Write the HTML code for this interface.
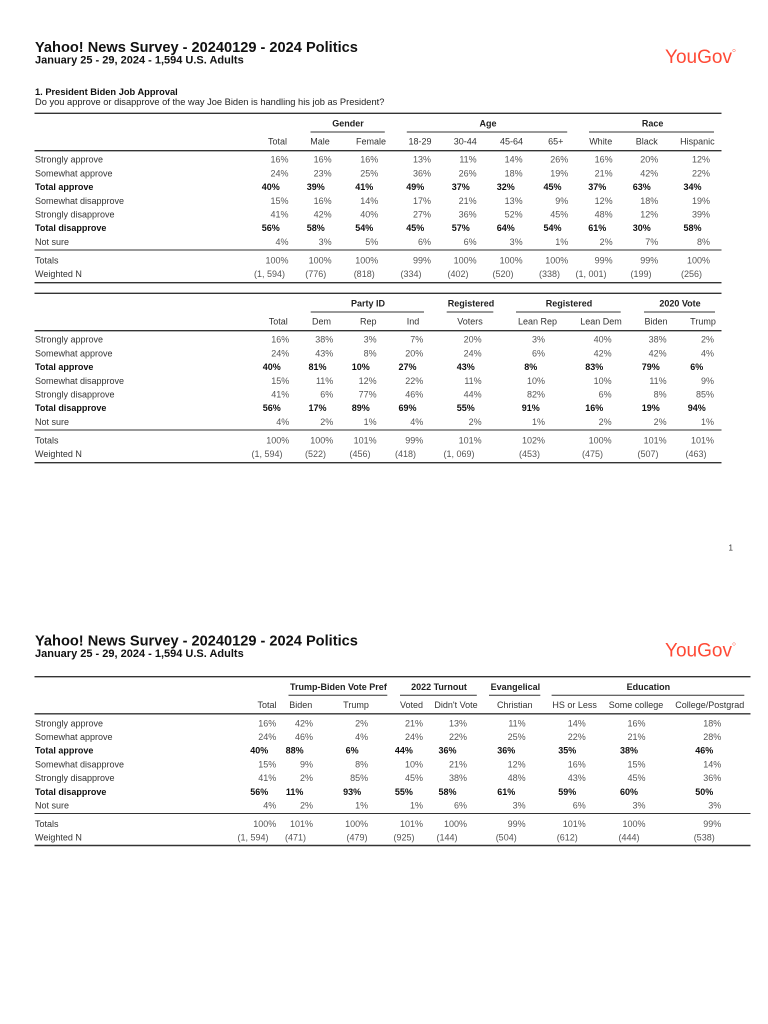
<!DOCTYPE html>
<html><head><meta charset="utf-8"><style>
html,body{margin:0;padding:0;background:#fff;}
svg{display:block;font-family:"Liberation Sans",Arial,sans-serif;}
.t{font-size:14.6px;font-weight:bold;fill:#111}
.s{font-size:11px;font-weight:bold;fill:#111}
.lg{font-size:19.5px;fill:#ff4a36}
.q{font-size:9.3px;font-weight:bold;fill:#111}
.qq{font-size:9.3px;fill:#222}
.lab{font-size:9px;fill:#333}
.labb{font-size:9px;font-weight:bold;fill:#111}
.gh{font-size:9px;font-weight:bold;fill:#222;text-anchor:middle}
.ch{font-size:9px;fill:#333;text-anchor:middle}
.n{font-size:9px;fill:#555;text-anchor:end}
.b{font-size:9px;font-weight:bold;fill:#111;text-anchor:middle}
.w{font-size:9px;fill:#555;text-anchor:middle}
.r{stroke:#333;stroke-width:1.4}
.r2{stroke:#333;stroke-width:1.1}
.u{stroke:#333;stroke-width:1}
</style></head><body>
<svg width="768" height="1024" viewBox="0 0 768 1024">
<rect width="768" height="1024" fill="#fff"/>

<!-- PAGE 1 HEADER -->
<text class="t" x="35" y="52">Yahoo! News Survey - 20240129 - 2024 Politics</text>
<text class="s" x="35" y="63.5">January 25 - 29, 2024 - 1,594 U.S. Adults</text>
<text class="lg" x="665" y="63" textLength="67" lengthAdjust="spacingAndGlyphs">YouGov</text>
<circle cx="734" cy="50.5" r="1.3" fill="none" stroke="#ff4a36" stroke-width="0.4"/>

<text class="q" x="35" y="95">1. President Biden Job Approval</text>
<text class="qq" x="35" y="105">Do you approve or disapprove of the way Joe Biden is handling his job as President?</text>

<!-- TABLE 1 -->
<line class="r" x1="34.5" x2="721.5" y1="113.3" y2="113.3"/>
<text class="gh" y="126.7"><tspan x="348">Gender</tspan><tspan x="488">Age</tspan><tspan x="652.6">Race</tspan></text>
<line class="u" x1="310.5" x2="384.8" y1="132" y2="132"/>
<line class="u" x1="406.8" x2="567.2" y1="132" y2="132"/>
<line class="u" x1="589" x2="714" y1="132" y2="132"/>
<text class="ch" y="144.5"><tspan x="277.5">Total</tspan><tspan x="320">Male</tspan><tspan x="371">Female</tspan><tspan x="420">18-29</tspan><tspan x="465.3">30-44</tspan><tspan x="511.5">45-64</tspan><tspan x="555.8">65+</tspan><tspan x="600.7">White</tspan><tspan x="646.7">Black</tspan><tspan x="697.4">Hispanic</tspan></text>
<line class="r" x1="34.5" x2="721.5" y1="150.7" y2="150.7"/>

<text class="lab" x="35" y="162.7">Strongly approve</text>
<text class="lab" x="35" y="176.4">Somewhat approve</text>
<text class="labb" x="35" y="190.1">Total approve</text>
<text class="lab" x="35" y="203.8">Somewhat disapprove</text>
<text class="lab" x="35" y="217.5">Strongly disapprove</text>
<text class="labb" x="35" y="231.2">Total disapprove</text>
<text class="lab" x="35" y="244.9">Not sure</text>
<text class="lab" x="35" y="263.5">Totals</text>
<text class="lab" x="35" y="277">Weighted N</text>

<text class="n" y="162.7"><tspan x="288.5">16%</tspan><tspan x="331.7">16%</tspan><tspan x="378.3">16%</tspan><tspan x="431">13%</tspan><tspan x="476.7">11%</tspan><tspan x="522.7">14%</tspan><tspan x="568.3">26%</tspan><tspan x="612.7">16%</tspan><tspan x="658.3">20%</tspan><tspan x="710">12%</tspan></text>
<text class="n" y="176.4"><tspan x="288.5">24%</tspan><tspan x="331.7">23%</tspan><tspan x="378.3">25%</tspan><tspan x="431">36%</tspan><tspan x="476.7">26%</tspan><tspan x="522.7">18%</tspan><tspan x="568.3">19%</tspan><tspan x="612.7">21%</tspan><tspan x="658.3">42%</tspan><tspan x="710">22%</tspan></text>
<text class="b" y="190.1"><tspan x="270.8">40%</tspan><tspan x="315.8">39%</tspan><tspan x="364.2">41%</tspan><tspan x="415.2">49%</tspan><tspan x="460.8">37%</tspan><tspan x="505.8">32%</tspan><tspan x="552.5">45%</tspan><tspan x="597.2">37%</tspan><tspan x="641.7">63%</tspan><tspan x="692.5">34%</tspan></text>
<text class="n" y="203.8"><tspan x="288.5">15%</tspan><tspan x="331.7">16%</tspan><tspan x="378.3">14%</tspan><tspan x="431">17%</tspan><tspan x="476.7">21%</tspan><tspan x="522.7">13%</tspan><tspan x="568.3">9%</tspan><tspan x="612.7">12%</tspan><tspan x="658.3">18%</tspan><tspan x="710">19%</tspan></text>
<text class="n" y="217.5"><tspan x="288.5">41%</tspan><tspan x="331.7">42%</tspan><tspan x="378.3">40%</tspan><tspan x="431">27%</tspan><tspan x="476.7">36%</tspan><tspan x="522.7">52%</tspan><tspan x="568.3">45%</tspan><tspan x="612.7">48%</tspan><tspan x="658.3">12%</tspan><tspan x="710">39%</tspan></text>
<text class="b" y="231.2"><tspan x="270.8">56%</tspan><tspan x="315.8">58%</tspan><tspan x="364.2">54%</tspan><tspan x="415.2">45%</tspan><tspan x="460.8">57%</tspan><tspan x="505.8">64%</tspan><tspan x="552.5">54%</tspan><tspan x="597.2">61%</tspan><tspan x="641.7">30%</tspan><tspan x="692.5">58%</tspan></text>
<text class="n" y="244.9"><tspan x="288.5">4%</tspan><tspan x="331.7">3%</tspan><tspan x="378.3">5%</tspan><tspan x="431">6%</tspan><tspan x="476.7">6%</tspan><tspan x="522.7">3%</tspan><tspan x="568.3">1%</tspan><tspan x="612.7">2%</tspan><tspan x="658.3">7%</tspan><tspan x="710">8%</tspan></text>
<line class="r2" x1="34.5" x2="721.5" y1="250" y2="250"/>
<text class="n" y="263.5"><tspan x="288.5">100%</tspan><tspan x="331.7">100%</tspan><tspan x="378.3">100%</tspan><tspan x="431">99%</tspan><tspan x="476.7">100%</tspan><tspan x="522.7">100%</tspan><tspan x="568.3">100%</tspan><tspan x="612.7">99%</tspan><tspan x="658.3">99%</tspan><tspan x="710">100%</tspan></text>
<text class="w" y="277"><tspan x="269.5">(1, 594)</tspan><tspan x="315.8">(776)</tspan><tspan x="364.2">(818)</tspan><tspan x="411">(334)</tspan><tspan x="458">(402)</tspan><tspan x="503">(520)</tspan><tspan x="549.5">(338)</tspan><tspan x="591">(1, 001)</tspan><tspan x="641">(199)</tspan><tspan x="691.5">(256)</tspan></text>
<line class="r" x1="34.5" x2="721.5" y1="282.7" y2="282.7"/>

<!-- TABLE 2 -->
<line class="r" x1="34.5" x2="721.5" y1="293.3" y2="293.3"/>
<text class="gh" y="306.7"><tspan x="368">Party ID</tspan><tspan x="471">Registered</tspan><tspan x="569">Registered</tspan><tspan x="680">2020 Vote</tspan></text>
<line class="u" x1="310.7" x2="424" y1="312" y2="312"/>
<line class="u" x1="446.7" x2="493.3" y1="312" y2="312"/>
<line class="u" x1="516" x2="620.7" y1="312" y2="312"/>
<line class="u" x1="644" x2="715" y1="312" y2="312"/>
<text class="ch" y="324.5"><tspan x="278.3">Total</tspan><tspan x="321.5">Dem</tspan><tspan x="368.3">Rep</tspan><tspan x="413">Ind</tspan><tspan x="470">Voters</tspan><tspan x="537.5">Lean Rep</tspan><tspan x="601">Lean Dem</tspan><tspan x="656">Biden</tspan><tspan x="703">Trump</tspan></text>
<line class="r" x1="34.5" x2="721.5" y1="330.7" y2="330.7"/>

<text class="lab" x="35" y="342.7">Strongly approve</text>
<text class="lab" x="35" y="356.4">Somewhat approve</text>
<text class="labb" x="35" y="370.1">Total approve</text>
<text class="lab" x="35" y="383.8">Somewhat disapprove</text>
<text class="lab" x="35" y="397.5">Strongly disapprove</text>
<text class="labb" x="35" y="411.2">Total disapprove</text>
<text class="lab" x="35" y="424.9">Not sure</text>
<text class="lab" x="35" y="443.5">Totals</text>
<text class="lab" x="35" y="457">Weighted N</text>

<text class="n" y="342.7"><tspan x="289.3">16%</tspan><tspan x="333.3">38%</tspan><tspan x="376.7">3%</tspan><tspan x="423.3">7%</tspan><tspan x="481.7">20%</tspan><tspan x="545">3%</tspan><tspan x="611.7">40%</tspan><tspan x="666.7">38%</tspan><tspan x="714">2%</tspan></text>
<text class="n" y="356.4"><tspan x="289.3">24%</tspan><tspan x="333.3">43%</tspan><tspan x="376.7">8%</tspan><tspan x="423.3">20%</tspan><tspan x="481.7">24%</tspan><tspan x="545">6%</tspan><tspan x="611.7">42%</tspan><tspan x="666.7">42%</tspan><tspan x="714">4%</tspan></text>
<text class="b" y="370.1"><tspan x="271.7">40%</tspan><tspan x="317.5">81%</tspan><tspan x="360.8">10%</tspan><tspan x="407.5">27%</tspan><tspan x="465.8">43%</tspan><tspan x="530.8">8%</tspan><tspan x="594.2">83%</tspan><tspan x="650.8">79%</tspan><tspan x="696.7">6%</tspan></text>
<text class="n" y="383.8"><tspan x="289.3">15%</tspan><tspan x="333.3">11%</tspan><tspan x="376.7">12%</tspan><tspan x="423.3">22%</tspan><tspan x="481.7">11%</tspan><tspan x="545">10%</tspan><tspan x="611.7">10%</tspan><tspan x="666.7">11%</tspan><tspan x="714">9%</tspan></text>
<text class="n" y="397.5"><tspan x="289.3">41%</tspan><tspan x="333.3">6%</tspan><tspan x="376.7">77%</tspan><tspan x="423.3">46%</tspan><tspan x="481.7">44%</tspan><tspan x="545">82%</tspan><tspan x="611.7">6%</tspan><tspan x="666.7">8%</tspan><tspan x="714">85%</tspan></text>
<text class="b" y="411.2"><tspan x="271.7">56%</tspan><tspan x="317.5">17%</tspan><tspan x="360.8">89%</tspan><tspan x="407.5">69%</tspan><tspan x="465.8">55%</tspan><tspan x="530.8">91%</tspan><tspan x="594.2">16%</tspan><tspan x="650.8">19%</tspan><tspan x="696.7">94%</tspan></text>
<text class="n" y="424.9"><tspan x="289.3">4%</tspan><tspan x="333.3">2%</tspan><tspan x="376.7">1%</tspan><tspan x="423.3">4%</tspan><tspan x="481.7">2%</tspan><tspan x="545">1%</tspan><tspan x="611.7">2%</tspan><tspan x="666.7">2%</tspan><tspan x="714">1%</tspan></text>
<line class="r2" x1="34.5" x2="721.5" y1="430" y2="430"/>
<text class="n" y="443.5"><tspan x="289.3">100%</tspan><tspan x="333.3">100%</tspan><tspan x="376.7">101%</tspan><tspan x="423.3">99%</tspan><tspan x="481.7">101%</tspan><tspan x="545">102%</tspan><tspan x="611.7">100%</tspan><tspan x="666.7">101%</tspan><tspan x="714">101%</tspan></text>
<text class="w" y="457"><tspan x="267">(1, 594)</tspan><tspan x="315.5">(522)</tspan><tspan x="360">(456)</tspan><tspan x="405.5">(418)</tspan><tspan x="459">(1, 069)</tspan><tspan x="529.5">(453)</tspan><tspan x="592.5">(475)</tspan><tspan x="648">(507)</tspan><tspan x="696">(463)</tspan></text>
<line class="r" x1="34.5" x2="721.5" y1="462.7" y2="462.7"/>

<text x="728.5" y="550.5" style="font-size:8px;fill:#333">1</text>

<!-- PAGE 2 HEADER -->
<text class="t" x="35" y="645.5">Yahoo! News Survey - 20240129 - 2024 Politics</text>
<text class="s" x="35" y="657">January 25 - 29, 2024 - 1,594 U.S. Adults</text>
<text class="lg" x="665" y="656.5" textLength="67" lengthAdjust="spacingAndGlyphs">YouGov</text>
<circle cx="734" cy="644" r="1.3" fill="none" stroke="#ff4a36" stroke-width="0.4"/>

<!-- TABLE 3 -->
<line class="r" x1="34.5" x2="750.5" y1="676.7" y2="676.7"/>
<text class="gh" y="690"><tspan x="338.4">Trump-Biden Vote Pref</tspan><tspan x="439">2022 Turnout</tspan><tspan x="515.4">Evangelical</tspan><tspan x="648.4">Education</tspan></text>
<line class="u" x1="288.5" x2="387.3" y1="695.3" y2="695.3"/>
<line class="u" x1="400" x2="476.8" y1="695.3" y2="695.3"/>
<line class="u" x1="489" x2="540.3" y1="695.3" y2="695.3"/>
<line class="u" x1="551.6" x2="744.3" y1="695.3" y2="695.3"/>
<text class="ch" y="708"><tspan x="267">Total</tspan><tspan x="300.8">Biden</tspan><tspan x="356">Trump</tspan><tspan x="411.5">Voted</tspan><tspan x="456">Didn't Vote</tspan><tspan x="514.7">Christian</tspan><tspan x="574.6">HS or Less</tspan><tspan x="636">Some college</tspan><tspan x="709.8">College/Postgrad</tspan></text>
<line class="r" x1="34.5" x2="750.5" y1="713.8" y2="713.8"/>

<text class="lab" x="35" y="726.3">Strongly approve</text>
<text class="lab" x="35" y="740">Somewhat approve</text>
<text class="labb" x="35" y="753.7">Total approve</text>
<text class="lab" x="35" y="767.4">Somewhat disapprove</text>
<text class="lab" x="35" y="781.1">Strongly disapprove</text>
<text class="labb" x="35" y="794.8">Total disapprove</text>
<text class="lab" x="35" y="808.5">Not sure</text>
<text class="lab" x="35" y="827">Totals</text>
<text class="lab" x="35" y="840.5">Weighted N</text>

<text class="n" y="726.3"><tspan x="276.3">16%</tspan><tspan x="313">42%</tspan><tspan x="368.2">2%</tspan><tspan x="423">21%</tspan><tspan x="467">13%</tspan><tspan x="525.7">11%</tspan><tspan x="585.8">14%</tspan><tspan x="645.5">16%</tspan><tspan x="721.3">18%</tspan></text>
<text class="n" y="740"><tspan x="276.3">24%</tspan><tspan x="313">46%</tspan><tspan x="368.2">4%</tspan><tspan x="423">24%</tspan><tspan x="467">22%</tspan><tspan x="525.7">25%</tspan><tspan x="585.8">22%</tspan><tspan x="645.5">21%</tspan><tspan x="721.3">28%</tspan></text>
<text class="b" y="753.7"><tspan x="259.2">40%</tspan><tspan x="294.6">88%</tspan><tspan x="352.1">6%</tspan><tspan x="403.9">44%</tspan><tspan x="447.5">36%</tspan><tspan x="506.2">36%</tspan><tspan x="567.3">35%</tspan><tspan x="629">38%</tspan><tspan x="704.2">46%</tspan></text>
<text class="n" y="767.4"><tspan x="276.3">15%</tspan><tspan x="313">9%</tspan><tspan x="368.2">8%</tspan><tspan x="423">10%</tspan><tspan x="467">21%</tspan><tspan x="525.7">12%</tspan><tspan x="585.8">16%</tspan><tspan x="645.5">15%</tspan><tspan x="721.3">14%</tspan></text>
<text class="n" y="781.1"><tspan x="276.3">41%</tspan><tspan x="313">2%</tspan><tspan x="368.2">85%</tspan><tspan x="423">45%</tspan><tspan x="467">38%</tspan><tspan x="525.7">48%</tspan><tspan x="585.8">43%</tspan><tspan x="645.5">45%</tspan><tspan x="721.3">36%</tspan></text>
<text class="b" y="794.8"><tspan x="259.2">56%</tspan><tspan x="294.6">11%</tspan><tspan x="352.1">93%</tspan><tspan x="403.9">55%</tspan><tspan x="447.5">58%</tspan><tspan x="506.2">61%</tspan><tspan x="567.3">59%</tspan><tspan x="629">60%</tspan><tspan x="704.2">50%</tspan></text>
<text class="n" y="808.5"><tspan x="276.3">4%</tspan><tspan x="313">2%</tspan><tspan x="368.2">1%</tspan><tspan x="423">1%</tspan><tspan x="467">6%</tspan><tspan x="525.7">3%</tspan><tspan x="585.8">6%</tspan><tspan x="645.5">3%</tspan><tspan x="721.3">3%</tspan></text>
<line class="r2" x1="34.5" x2="750.5" y1="813.5" y2="813.5"/>
<text class="n" y="827"><tspan x="276.3">100%</tspan><tspan x="313">101%</tspan><tspan x="368.2">100%</tspan><tspan x="423">101%</tspan><tspan x="467">100%</tspan><tspan x="525.7">99%</tspan><tspan x="585.8">101%</tspan><tspan x="645.5">100%</tspan><tspan x="721.3">99%</tspan></text>
<text class="w" y="840.5"><tspan x="253">(1, 594)</tspan><tspan x="295.5">(471)</tspan><tspan x="357">(479)</tspan><tspan x="404">(925)</tspan><tspan x="447">(144)</tspan><tspan x="506.2">(504)</tspan><tspan x="567.3">(612)</tspan><tspan x="629">(444)</tspan><tspan x="704.2">(538)</tspan></text>
<line class="r" x1="34.5" x2="750.5" y1="845.5" y2="845.5"/>
</svg>
</body></html>
